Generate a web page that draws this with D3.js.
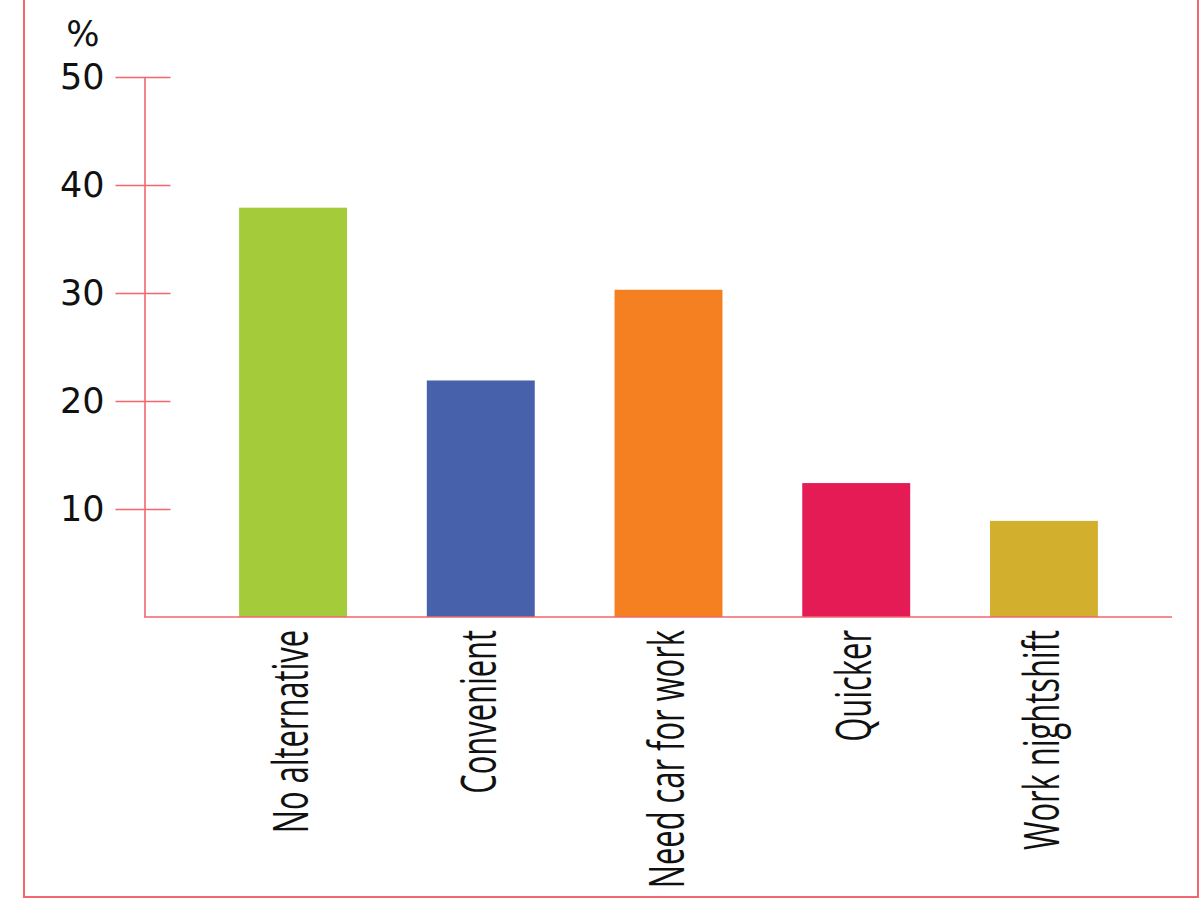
<!DOCTYPE html>
<html>
<head>
<meta charset="utf-8">
<script src="https://cdn.jsdelivr.net/npm/d3@7"></script>
<style>
  body { margin: 0; background: #fff; }
</style>
</head>
<body>
<div id="chart"></div>
<script>
// chart data
var categories = ["No alternative", "Convenient", "Need car for work", "Quicker", "Work nightshift"];
var values = [37.9, 21.9, 30.3, 12.4, 8.9];
var barColors = ["#a3cb3a", "#4861ab", "#f58021", "#e41b55", "#d3af2e"];
var tickValues = [10, 20, 30, 40, 50];

var red = "#f2666e";

var svg = d3.select("#chart")
  .append("svg")
    .attr("width", 1200)
    .attr("height", 900);

// outer frame
svg.append("rect")
  .attr("x", 24)
  .attr("y", -5)
  .attr("width", 1174)
  .attr("height", 902)
  .attr("fill", "none")
  .attr("stroke", red)
  .attr("stroke-width", 2);

// scales
var y = d3.scaleLinear()
  .domain([0, 50])
  .range([617, 77]);

var x = d3.scaleBand()
  .domain(categories)
  .range([164, 1173])
  .paddingInner(0.425)
  .paddingOuter(0.4);

// bars
svg.append("g")
  .selectAll("rect")
  .data(values)
  .enter()
  .append("rect")
    .attr("x", function(d, i) { return x(categories[i]); })
    .attr("y", function(d) { return y(d); })
    .attr("width", x.bandwidth())
    .attr("height", function(d) { return y(0) - y(d); })
    .attr("fill", function(d, i) { return barColors[i]; });

// Y axis
var yAxis = d3.axisLeft(y)
  .tickValues(tickValues)
  .tickSize(29)
  .tickSizeOuter(0)
  .tickPadding(11);

var gy = svg.append("g")
  .attr("transform", "translate(144.5,0)")
  .call(yAxis);

gy.select(".domain").attr("stroke", red).attr("stroke-width", 1.6);
gy.selectAll(".tick line")
  .attr("x1", -29)
  .attr("x2", 26)
  .attr("stroke", red)
  .attr("stroke-width", 1.6);
gy.selectAll(".tick text")
  .attr("fill", "#111")
  .style("font-family", "DejaVu Sans, sans-serif")
  .style("font-size", "35px");

// x baseline
svg.append("line")
  .attr("x1", 144.5)
  .attr("x2", 1172)
  .attr("y1", y(0))
  .attr("y2", y(0))
  .attr("stroke", red)
  .attr("stroke-width", 1.6);

// category labels, rotated
svg.append("g")
  .selectAll("text")
  .data(categories)
  .enter()
  .append("text")
    .attr("transform", function(d) {
      return "translate(" + (x(d) + x.bandwidth() / 2 + 15) + ",630) rotate(-90) scale(0.63,1)";
    })
    .attr("text-anchor", "end")
    .style("font-family", "Open Sans, sans-serif")
    .style("font-size", "49px")
    .attr("fill", "#111")
    .text(function(d) { return d; });

// unit label
svg.append("text")
  .attr("x", 83)
  .attr("y", 46)
  .attr("text-anchor", "middle")
  .style("font-family", "DejaVu Sans, sans-serif")
  .style("font-size", "35px")
  .attr("fill", "#111")
  .text("%");
</script>
</body>
</html>
